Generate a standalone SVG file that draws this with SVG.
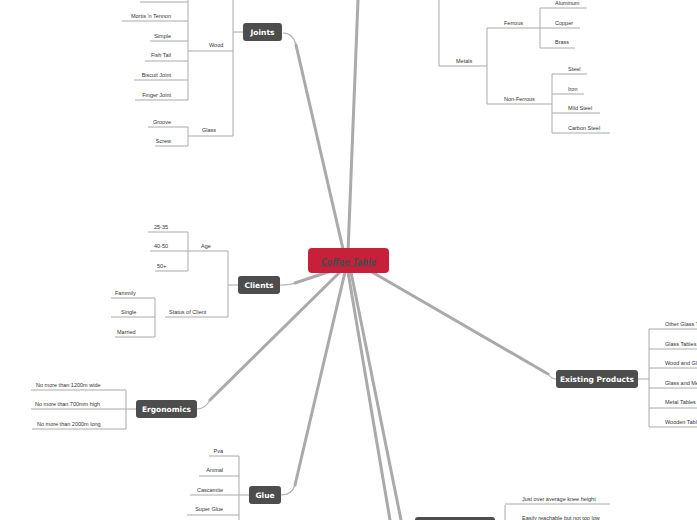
<svg xmlns="http://www.w3.org/2000/svg" width="697" height="520" viewBox="0 0 697 520">
<style>
.l{fill:none;stroke:#aaa;stroke-width:1}
.b{fill:none;stroke:#aaa;stroke-width:3;stroke-linecap:round}
.c{fill:none;stroke:#b0b0b0;stroke-width:1.2}
.t{font-family:"Liberation Sans",Arial,sans-serif;font-size:5.5px;fill:#333}
.n rect{fill:#4d4d4d}
.n text{font-family:"DejaVu Sans",sans-serif;font-size:7.5px;font-weight:bold;fill:#fff;text-anchor:middle}
</style>
<rect width="697" height="520" fill="#fff"/>
<g id="connectors">
<path class="b" d="M348,252 L358,0"/>
<path class="b" d="M346,262 L296,45"/>
<path class="c" d="M283,33 Q293,33 296,45"/>
<path class="b" d="M340,268 L295,283"/>
<path class="c" d="M280,285 Q290,285 295,283"/>
<path class="b" d="M365,268 L548,374"/>
<path class="c" d="M556,379 Q552,379 548,374"/>
<path class="b" d="M340,272 L210,400"/>
<path class="c" d="M197,409 Q205,409 210,400"/>
<path class="b" d="M345,272 L295,485"/>
<path class="c" d="M281,495 Q292,495 295,485"/>
<path class="b" d="M348,272 L390,520"/>
<path class="b" d="M351,272 L401,520"/>
<!-- Joints branches -->
<path class="l" d="M233,0 V136 M233,32 H243 M188,51 H233 M188,136 H233 M188,0 V100 M140,2 H188 M122,21 H188 M150,41 H188 M145,61 H188 M134,80 H188 M135,100 H188 M188,127 V146 M148,127 H188 M155,146 H188"/>
<!-- Metals -->
<path class="l" d="M439,0 V66 H487 M487,28 V104 M487,28 H540 M540,8 V48 M540,8 H587 M540,28 H580 M540,48 H575 M487,104 H552 M552,74 V133 M552,74 H587 M552,94 H584 M552,113 H600 M552,133 H610"/>
<!-- Clients -->
<path class="l" d="M228,251 V317 M228,285 H238 M188,251 H228 M165,317 H228 M188,232 V271 M148,232 H188 M150,251 H188 M155,271 H188 M155,298 V337 M111,298 H155 M111,317 H155 M115,337 H155"/>
<!-- Ergonomics -->
<path class="l" d="M126,390 V429 M126,409 H136 M31,390 H126 M31,409 H126 M32,429 H126"/>
<!-- Glue -->
<path class="l" d="M239,456 V520 M239,495 H249 M209,456 H239 M199,476 H239 M190,495 H239 M187,515 H239"/>
<!-- Existing Products -->
<path class="l" d="M649,329 V427 M638,379 H649 M649,329 H697 M649,349 H697 M649,368 H697 M649,388 H697 M649,408 H697 M649,427 H697"/>
<!-- bottom -->
<path class="l" d="M505,505 V520 M505,504 H610"/>
</g>
<g id="labels">
<text class="t" x="209" y="47">Wood</text>
<text class="t" x="202" y="132">Glass</text>
<text class="t" x="171" y="18" text-anchor="end">Mortis 'n Tennon</text>
<text class="t" x="171" y="38" text-anchor="end">Simple</text>
<text class="t" x="171" y="57" text-anchor="end">Fish Tail</text>
<text class="t" x="171" y="77" text-anchor="end">Biscuit Joint</text>
<text class="t" x="171" y="97" text-anchor="end">Finger Joint</text>
<text class="t" x="171" y="124" text-anchor="end">Groove</text>
<text class="t" x="171" y="143" text-anchor="end">Screw</text>
<text class="t" x="456" y="63">Metals</text>
<text class="t" x="504" y="25">Ferrous</text>
<text class="t" x="504" y="101">Non-Ferrous</text>
<text class="t" x="555" y="5">Aluminum</text>
<text class="t" x="555" y="25">Copper</text>
<text class="t" x="555" y="44">Brass</text>
<text class="t" x="568" y="71">Steel</text>
<text class="t" x="568" y="91">Iron</text>
<text class="t" x="568" y="110">Mild Steel</text>
<text class="t" x="568" y="130">Carbon Steel</text>
<text class="t" x="201" y="248">Age</text>
<text class="t" x="169" y="314">Status of Client</text>
<text class="t" x="154" y="229">25-35</text>
<text class="t" x="154" y="248">40-50</text>
<text class="t" x="157" y="268">50+</text>
<text class="t" x="115" y="295">Fammily</text>
<text class="t" x="121" y="314">Single</text>
<text class="t" x="117" y="334">Married</text>
<text class="t" x="36" y="387">No more than 1200m wide</text>
<text class="t" x="35" y="406">No more than 700mm high</text>
<text class="t" x="37" y="426">No more than 2000m long</text>
<text class="t" x="223" y="453" text-anchor="end">Pva</text>
<text class="t" x="223" y="472" text-anchor="end">Animal</text>
<text class="t" x="223" y="492" text-anchor="end">Cascamite</text>
<text class="t" x="223" y="511" text-anchor="end">Super Glue</text>
<text class="t" x="665" y="326">Other Glass Tables</text>
<text class="t" x="665" y="346">Glass Tables</text>
<text class="t" x="665" y="365">Wood and Glass</text>
<text class="t" x="665" y="385">Glass and Metal</text>
<text class="t" x="665" y="404">Metal Tables</text>
<text class="t" x="665" y="424">Wooden Tables</text>
<text class="t" x="522" y="501">Just over average knee height</text>
<text class="t" x="522" y="520">Easily reachable but not too low</text>
</g>
<g id="center">
<rect x="308" y="248" width="81" height="25" rx="4" fill="#c8203a"/>
<text x="348.5" y="264.5" font-family="DejaVu Sans,sans-serif" font-size="8px" font-weight="bold" font-style="italic" text-decoration="underline" fill="#4a4a4a" text-anchor="middle">Coffee Table</text>
</g>
<g id="joints" class="n"><rect x="243" y="23" width="39" height="18" rx="3"/><text x="262.5" y="35">Joints</text></g>
<g id="clients" class="n"><rect x="238" y="276" width="42" height="18" rx="3"/><text x="259" y="288">Clients</text></g>
<g id="ergonomics" class="n"><rect x="136" y="400" width="61" height="18" rx="3"/><text x="166.5" y="412">Ergonomics</text></g>
<g id="glue" class="n"><rect x="249" y="486" width="32" height="18" rx="3"/><text x="265" y="498">Glue</text></g>
<g id="existing" class="n"><rect x="556" y="370" width="82" height="18" rx="3"/><text x="597" y="382">Existing Products</text></g>
<g id="bottom" class="n"><rect x="415" y="517" width="80" height="18" rx="3"/></g>
</svg>
